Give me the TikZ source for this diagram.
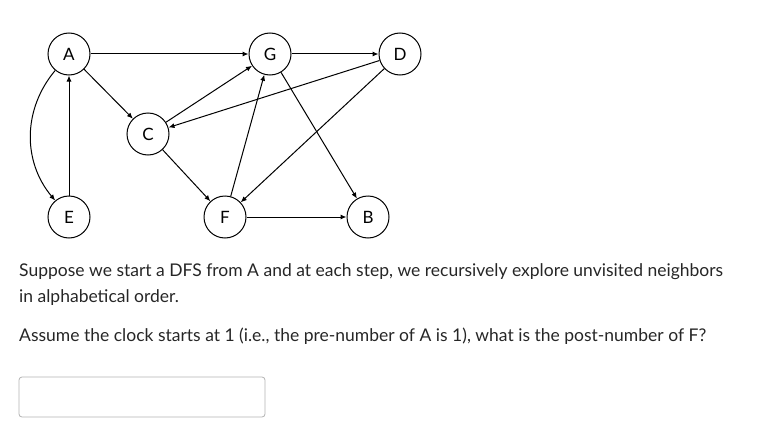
\documentclass[tikz,border=0pt]{standalone}
\usepackage{fontspec}
\setmainfont{Lato}
\usetikzlibrary{arrows.meta}
\begin{document}
\begin{tikzpicture}[x=1pt,y=-1pt,
  vert/.style={circle,draw,line width=1pt,minimum size=42pt,inner sep=0pt,font=\fontsize{17}{20}\selectfont},
  edge/.style={-{Latex[length=6pt,width=5pt]},line width=1pt},
  txt/.style={anchor=base west,inner sep=0pt,font=\fontsize{17.5}{21}\selectfont,text=black!85}]
\useasboundingbox (0,0) rectangle (762,444);
\node[vert] (A) at (69,54) {A};
\node[vert] (G) at (270,54) {G};
\node[vert] (D) at (400,54) {D};
\node[vert] (C) at (148,134) {C};
\node[vert] (E) at (69,217) {E};
\node[vert] (F) at (225,217) {F};
\node[vert] (B) at (368,217) {B};
\draw[edge] (A) -- (G);
\draw[edge] (G) -- (D);
\draw[edge] (A) -- (C);
\draw[edge] (C) -- (G);
\draw[edge] (D) -- (C);
\draw[edge] (C) -- (F);
\draw[edge] (F) -- (G);
\draw[edge] (D) -- (F);
\draw[edge] (G) -- (B);
\draw[edge] (F) -- (B);
\draw[edge] (E) -- (A);
\draw[edge] (A) to[bend right=40] (E);
\node[txt] (t1) at (19,276) {Suppose we start a DFS from A and at each step, we recursively explore unvisited neighbors};
\node[txt] (t2) at (19,302) {in alphabetical order.};
\node[txt] (t3) at (19,341) {Assume the clock starts at 1 (i.e., the pre-number of A is 1), what is the post-number of F?};
\draw[black!30,line width=0.8pt,rounded corners=3pt] (19,377) rectangle (265,417);
\end{tikzpicture}
\end{document}
